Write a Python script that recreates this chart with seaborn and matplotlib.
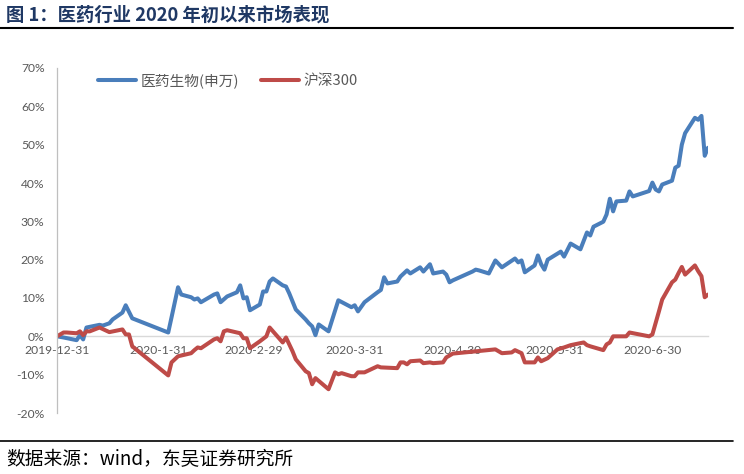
import matplotlib
matplotlib.use("Agg")
import matplotlib.pyplot as plt
from matplotlib.lines import Line2D
import seaborn as sns
import pandas as pd

title_text = "图 1：医药行业 2020 年初以来市场表现"
source_text = "数据来源：wind，东吴证券研究所"
series_names = ["医药生物(申万)", "沪深300"]
series_colors = ["#4A7EBB", "#BE4B48"]

pharma_dates = [
    "2019-12-31", "2020-01-02", "2020-01-06", "2020-01-07", "2020-01-08", "2020-01-09",
    "2020-01-13", "2020-01-14", "2020-01-16", "2020-01-17", "2020-01-20", "2020-01-21",
    "2020-01-23", "2020-02-03", "2020-02-04", "2020-02-06", "2020-02-07", "2020-02-10",
    "2020-02-11", "2020-02-12", "2020-02-13", "2020-02-17", "2020-02-18", "2020-02-19",
    "2020-02-21", "2020-02-24", "2020-02-25", "2020-02-26", "2020-02-27", "2020-02-28",
    "2020-03-02", "2020-03-03", "2020-03-04", "2020-03-05", "2020-03-06", "2020-03-09",
    "2020-03-10", "2020-03-11", "2020-03-13", "2020-03-16", "2020-03-17", "2020-03-18",
    "2020-03-19", "2020-03-20", "2020-03-23", "2020-03-26", "2020-03-30", "2020-03-31",
    "2020-04-01", "2020-04-03", "2020-04-07", "2020-04-08", "2020-04-09", "2020-04-10",
    "2020-04-13", "2020-04-14", "2020-04-15", "2020-04-16", "2020-04-17", "2020-04-20",
    "2020-04-21", "2020-04-23", "2020-04-24", "2020-04-27", "2020-04-28", "2020-04-29",
    "2020-04-30", "2020-05-06", "2020-05-07", "2020-05-08", "2020-05-11", "2020-05-13",
    "2020-05-15", "2020-05-19", "2020-05-20", "2020-05-21", "2020-05-22", "2020-05-25",
    "2020-05-26", "2020-05-27", "2020-05-28", "2020-05-29", "2020-06-02", "2020-06-03",
    "2020-06-05", "2020-06-08", "2020-06-10", "2020-06-11", "2020-06-12", "2020-06-15",
    "2020-06-16", "2020-06-17", "2020-06-18", "2020-06-19", "2020-06-22", "2020-06-23",
    "2020-06-24", "2020-06-29", "2020-06-30", "2020-07-01", "2020-07-02", "2020-07-03",
    "2020-07-06", "2020-07-07", "2020-07-08", "2020-07-09", "2020-07-10", "2020-07-13",
    "2020-07-14", "2020-07-15", "2020-07-16", "2020-07-17",
]
pharma_values = [
    0.0, -0.3, -1.0, 0.3, -0.8, 2.3,
    3.0, 2.8, 3.4, 4.4, 6.2, 8.1,
    4.7, 1.0, 4.9, 12.8, 10.9, 10.2,
    9.6, 9.9, 8.9, 10.9, 11.2, 8.9,
    10.4, 11.5, 13.3, 9.9, 10.2, 6.8,
    8.3, 11.7, 11.7, 14.3, 15.1, 13.3,
    13.0, 11.2, 7.0, 4.4, 3.4, 2.6,
    0.3, 3.1, 1.3, 9.4, 7.6, 8.1,
    6.5, 8.9, 11.5, 12.1, 15.4, 13.8,
    14.3, 15.6, 16.4, 17.2, 16.4, 18.0,
    16.9, 18.8, 16.4, 16.9, 16.1, 14.1,
    14.6, 16.9, 17.4, 17.2, 16.4, 19.8,
    18.0, 20.3, 19.3, 19.8, 16.7, 18.5,
    21.1, 18.8, 17.4, 20.0, 22.1, 20.8,
    24.2, 22.7, 27.1, 26.3, 28.6, 29.9,
    31.8, 35.9, 32.6, 35.2, 35.4, 37.8,
    36.5, 37.9, 40.1, 38.3, 37.8, 39.6,
    40.6, 44.0, 44.5, 50.0, 53.0, 57.0,
    56.5, 57.5, 47.1, 49.2,
]

csi_dates = [
    "2019-12-31", "2020-01-02", "2020-01-03", "2020-01-06", "2020-01-07", "2020-01-08",
    "2020-01-09", "2020-01-10", "2020-01-13", "2020-01-16", "2020-01-20", "2020-01-21",
    "2020-01-22", "2020-01-23", "2020-02-03", "2020-02-04", "2020-02-06", "2020-02-07",
    "2020-02-10", "2020-02-11", "2020-02-12", "2020-02-13", "2020-02-17", "2020-02-18",
    "2020-02-19", "2020-02-20", "2020-02-21", "2020-02-24", "2020-02-25", "2020-02-26",
    "2020-02-27", "2020-02-28", "2020-03-02", "2020-03-04", "2020-03-05", "2020-03-09",
    "2020-03-10", "2020-03-12", "2020-03-13", "2020-03-16", "2020-03-17", "2020-03-18",
    "2020-03-19", "2020-03-23", "2020-03-25", "2020-03-26", "2020-03-27", "2020-03-30",
    "2020-03-31", "2020-04-01", "2020-04-03", "2020-04-07", "2020-04-08", "2020-04-13",
    "2020-04-14", "2020-04-15", "2020-04-16", "2020-04-17", "2020-04-20", "2020-04-21",
    "2020-04-23", "2020-04-24", "2020-04-27", "2020-04-28", "2020-04-30", "2020-05-06",
    "2020-05-13", "2020-05-15", "2020-05-18", "2020-05-19", "2020-05-21", "2020-05-22",
    "2020-05-25", "2020-05-26", "2020-05-27", "2020-05-29", "2020-06-01", "2020-06-03",
    "2020-06-04", "2020-06-05", "2020-06-09", "2020-06-10", "2020-06-11", "2020-06-15",
    "2020-06-16", "2020-06-17", "2020-06-18", "2020-06-22", "2020-06-23", "2020-06-29",
    "2020-06-30", "2020-07-01", "2020-07-02", "2020-07-03", "2020-07-06", "2020-07-07",
    "2020-07-08", "2020-07-09", "2020-07-10", "2020-07-13", "2020-07-14", "2020-07-15",
    "2020-07-16", "2020-07-17",
]
csi_values = [
    0.0, 1.0, 1.0, 0.8, 1.3, 0.3,
    1.3, 1.3, 2.3, 1.1, 1.8, 0.5,
    0.5, -2.6, -10.2, -6.8, -5.2, -5.0,
    -4.4, -3.6, -2.9, -3.1, -0.8, -0.5,
    -1.3, 1.3, 1.6, 1.0, 0.8, -0.5,
    -0.5, -3.1, -1.3, 0.0, 2.3, -1.6,
    -0.3, -3.9, -6.0, -9.1, -9.6, -12.5,
    -10.9, -13.8, -9.4, -9.9, -9.6, -10.4,
    -10.4, -9.4, -9.4, -7.8, -8.1, -8.3,
    -6.8, -6.8, -7.3, -6.5, -6.3, -7.0,
    -6.8, -7.0, -6.8, -5.5, -4.5, -4.0,
    -3.4, -4.4, -4.2, -3.6, -4.4, -6.8,
    -6.8, -5.5, -6.5, -5.7, -3.4, -2.9,
    -2.6, -2.3, -1.6, -2.3, -2.6, -3.6,
    -2.1, -1.6, 0.0, 0.0, 1.0, 0.0,
    0.5, 3.5, 6.5, 9.6, 14.1, 14.8,
    16.5, 18.1, 16.1, 18.5, 17.0, 15.7,
    10.2, 10.9,
]

tick_dates = ["2019-12-31", "2020-01-31", "2020-02-29", "2020-03-31",
              "2020-04-30", "2020-05-31", "2020-06-30"]
tick_labels = ["2019-12-31", "2020-1-31", "2020-2-29", "2020-3-31",
               "2020-4-30", "2020-5-31", "2020-6-30"]
y_ticks = [-20, -10, 0, 10, 20, 30, 40, 50, 60, 70]

sns.set_style("white")
plt.rcParams["font.family"] = ["Noto Sans CJK SC", "DejaVu Sans"]
plt.rcParams["lines.solid_joinstyle"] = "round"
plt.rcParams["lines.solid_capstyle"] = "round"

df = pd.concat([
    pd.DataFrame({"date": pd.to_datetime(pharma_dates), "value": pharma_values,
                  "series": series_names[0]}),
    pd.DataFrame({"date": pd.to_datetime(csi_dates), "value": csi_values,
                  "series": series_names[1]}),
], ignore_index=True)

W, H = 744, 474
fig = plt.figure(figsize=(W / 100, H / 100), dpi=100)
ax = fig.add_axes([57 / W, 1 - 413 / H, (708 - 57) / W, (413 - 68) / H])

palette = dict(zip(series_names, series_colors))
sns.lineplot(data=df, x="date", y="value", hue="series", palette=palette,
             estimator=None, linewidth=2.9, ax=ax, legend=False)

ax.set_xlim(pd.Timestamp("2019-12-31"), pd.Timestamp("2020-07-17"))
ax.set_ylim(-20, 70)
ax.set_yticks(y_ticks)
ax.set_yticklabels([f"{v}%" for v in y_ticks])
ax.set_xticks(pd.to_datetime(tick_dates))
ax.set_xticklabels(tick_labels)
ax.set_xlabel("")
ax.set_ylabel("")

for s in ["top", "right"]:
    ax.spines[s].set_visible(False)
ax.spines["left"].set_color("#BFBFBF")
ax.spines["left"].set_linewidth(0.9)
ax.spines["bottom"].set_position(("data", 0))
ax.spines["bottom"].set_color("#D9D9D9")
ax.spines["bottom"].set_linewidth(1.0)
ax.spines["bottom"].set_zorder(0)

ax.tick_params(axis="y", direction="out", length=5, width=0.9, color="#BFBFBF",
               labelsize=8.7, labelcolor="#595959", pad=4)
ax.tick_params(axis="x", direction="out", length=4, width=0.9, color="#D9D9D9",
               labelsize=8.7, labelcolor="#595959", pad=2)
for lab in ax.get_xticklabels() + ax.get_yticklabels():
    lab.set_fontfamily(["Lato", "Noto Sans CJK SC"])

handles = [Line2D([0], [0], color=c, lw=2.9) for c in series_colors]
fig.legend(handles, series_names, loc="center left",
           bbox_to_anchor=(98 / W, 1 - 81 / H), ncol=2, frameon=False,
           fontsize=10.6, labelcolor="#595959", handlelength=2.6,
           handletextpad=0.3, columnspacing=1.45, borderpad=0, borderaxespad=0)

fig.text(6 / W, 1 - 15 / H, title_text, fontsize=13.2, fontweight="bold",
         color="#1F3864", va="center", ha="left")
fig.add_artist(Line2D([0, 733 / W], [1 - 28 / H, 1 - 28 / H], color="black", lw=1.5))
fig.add_artist(Line2D([0, 733 / W], [1 - 441 / H, 1 - 441 / H], color="black", lw=1.2))
fig.text(6 / W, 1 - 460 / H, source_text, fontsize=13.5, color="black",
         va="center", ha="left")

fig.savefig("out.png", dpi=100)
